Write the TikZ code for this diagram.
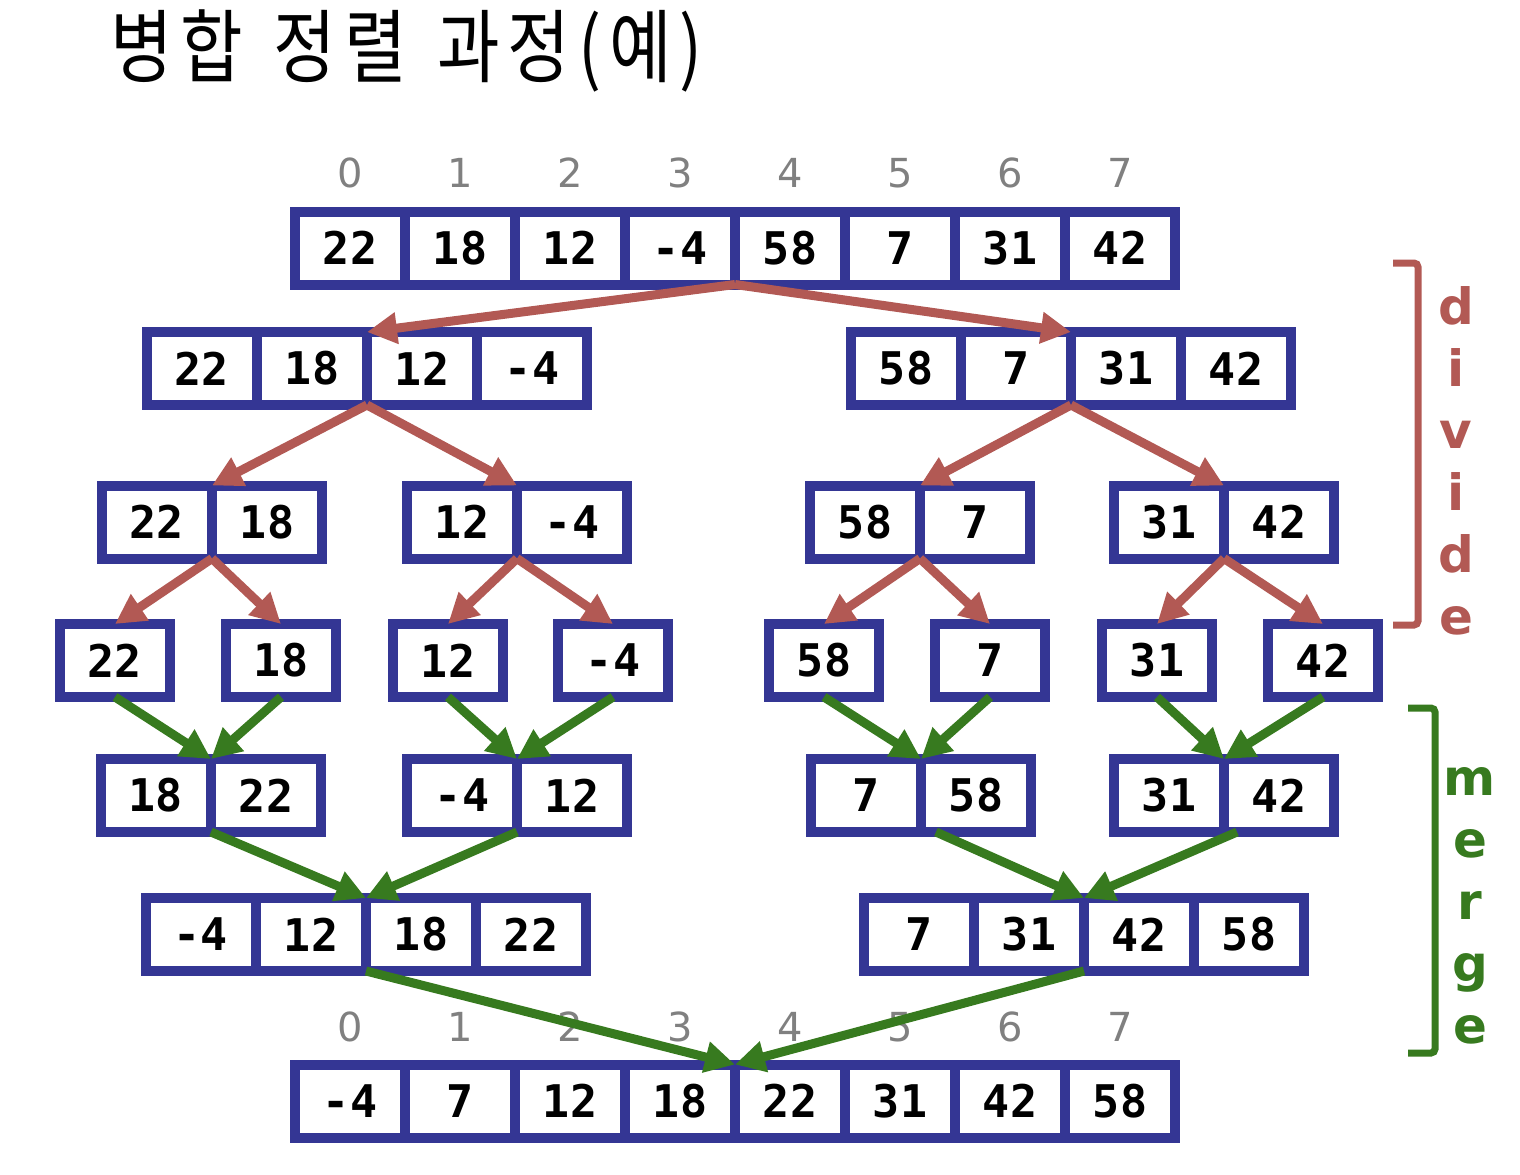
\documentclass[tikz,border=0pt]{standalone}
\usepackage{fontspec}
\setsansfont{DejaVu Sans}
\setmonofont{DejaVu Sans Mono}
\newfontfamily\krfont[FakeStretch=0.85,LetterSpace=10,WordSpace=1.3]{Noto Sans CJK KR}
\usetikzlibrary{arrows.meta}

\definecolor{boxblue}{RGB}{52,54,148}
\definecolor{divred}{RGB}{178,89,84}
\definecolor{mrggreen}{RGB}{55,122,31}
\definecolor{idxgray}{RGB}{128,128,128}

\begin{document}
\begin{tikzpicture}[x=0.5pt, y=-0.5pt,
node distance=55pt,
cell/.style={draw=boxblue, line width=5pt, fill=white, rectangle, inner sep=0pt, outer sep=0pt, minimum width=55pt, minimum height=36.5pt, font=\fontsize{22.5}{27}\selectfont\ttfamily\bfseries},
idx/.style={text=idxgray, inner sep=0pt, font=\fontsize{20}{24}\selectfont\sffamily},
divarrow/.style={draw=divred, line width=4.5pt, -{Triangle[length=15pt, width=15pt]}},
mrgarrow/.style={draw=mrggreen, line width=4.5pt, -{Triangle[length=15pt, width=15pt]}},
side/.style={inner sep=0pt, align=center, font=\fontsize{25}{31}\selectfont\sffamily\bfseries}]

\useasboundingbox (0,0) rectangle (1520,1174);

\node[anchor=base west, inner sep=0pt, font=\krfont\fontsize{40}{44}\selectfont] (title) at (110,76) {병합 정렬 과정(예)};

% original array
\node[cell] (a0) at (350,248) {22};
\node[cell] (a1) [right of=a0] {18};
\node[cell] (a2) [right of=a1] {12};
\node[cell] (a3) [right of=a2] {-4};
\node[cell] (a4) [right of=a3] {58};
\node[cell] (a5) [right of=a4] {7};
\node[cell] (a6) [right of=a5] {31};
\node[cell] (a7) [right of=a6] {42};

\node[idx] (i0) [above of=a0, yshift=-17.5pt] {0};
\node[idx] (i1) [above of=a1, yshift=-17.5pt] {1};
\node[idx] (i2) [above of=a2, yshift=-17.5pt] {2};
\node[idx] (i3) [above of=a3, yshift=-17.5pt] {3};
\node[idx] (i4) [above of=a4, yshift=-17.5pt] {4};
\node[idx] (i5) [above of=a5, yshift=-17.5pt] {5};
\node[idx] (i6) [above of=a6, yshift=-17.5pt] {6};
\node[idx] (i7) [above of=a7, yshift=-17.5pt] {7};

% divide
\node[cell] (b0) at (202,368.5) {22};
\node[cell] (b1) [right of=b0] {18};
\node[cell] (b2) [right of=b1] {12};
\node[cell] (b3) [right of=b2] {-4};
\node[cell] (b4) at (906,368.5) {58};
\node[cell] (b5) [right of=b4] {7};
\node[cell] (b6) [right of=b5] {31};
\node[cell] (b7) [right of=b6] {42};

\node[cell] (c0) at (157,522) {22};
\node[cell] (c1) [right of=c0] {18};
\node[cell] (c2) at (462,522) {12};
\node[cell] (c3) [right of=c2] {-4};
\node[cell] (c4) at (865,522) {58};
\node[cell] (c5) [right of=c4] {7};
\node[cell] (c6) at (1169,522) {31};
\node[cell] (c7) [right of=c6] {42};

\node[cell] (d0) at (115,660.5) {22};
\node[cell] (d1) at (281,660.5) {18};
\node[cell] (d2) at (448,660.5) {12};
\node[cell] (d3) at (613,660.5) {-4};
\node[cell] (d4) at (824,660.5) {58};
\node[cell] (d5) at (990,660.5) {7};
\node[cell] (d6) at (1157,660.5) {31};
\node[cell] (d7) at (1323,660.5) {42};

% merge
\node[cell] (e0) at (156,795.5) {18};
\node[cell] (e1) [right of=e0] {22};
\node[cell] (e2) at (462,795.5) {-4};
\node[cell] (e3) [right of=e2] {12};
\node[cell] (e4) at (866,795.5) {7};
\node[cell] (e5) [right of=e4] {58};
\node[cell] (e6) at (1169,795.5) {31};
\node[cell] (e7) [right of=e6] {42};

\node[cell] (f0) at (201,934.5) {-4};
\node[cell] (f1) [right of=f0] {12};
\node[cell] (f2) [right of=f1] {18};
\node[cell] (f3) [right of=f2] {22};
\node[cell] (f4) at (919,934.5) {7};
\node[cell] (f5) [right of=f4] {31};
\node[cell] (f6) [right of=f5] {42};
\node[cell] (f7) [right of=f6] {58};

% sorted array
\node[cell] (g0) at (350,1101) {-4};
\node[cell] (g1) [right of=g0] {7};
\node[cell] (g2) [right of=g1] {12};
\node[cell] (g3) [right of=g2] {18};
\node[cell] (g4) [right of=g3] {22};
\node[cell] (g5) [right of=g4] {31};
\node[cell] (g6) [right of=g5] {42};
\node[cell] (g7) [right of=g6] {58};

\node[idx] (j0) [above of=g0, yshift=-18pt] {0};
\node[idx] (j1) [above of=g1, yshift=-18pt] {1};
\node[idx] (j2) [above of=g2, yshift=-18pt] {2};
\node[idx] (j3) [above of=g3, yshift=-18pt] {3};
\node[idx] (j4) [above of=g4, yshift=-18pt] {4};
\node[idx] (j5) [above of=g5, yshift=-18pt] {5};
\node[idx] (j6) [above of=g6, yshift=-18pt] {6};
\node[idx] (j7) [above of=g7, yshift=-18pt] {7};

\path[every edge/.style={divarrow}]
 (a3.south east) edge (b1.north east)
 (a3.south east) edge (b5.north east)
 (b1.south east) edge (c0.north east)
 (b1.south east) edge (c2.north east)
 (b5.south east) edge (c4.north east)
 (b5.south east) edge (c6.north east)
 (c0.south east) edge (d0.north)
 (c0.south east) edge (d1.north)
 (c2.south east) edge (d2.north)
 (c2.south east) edge (d3.north)
 (c4.south east) edge (d4.north)
 (c4.south east) edge (d5.north)
 (c6.south east) edge (d6.north)
 (c6.south east) edge (d7.north);

\path[every edge/.style={mrgarrow}]
 (d0.south) edge (e0.north east)
 (d1.south) edge (e0.north east)
 (d2.south) edge (e2.north east)
 (d3.south) edge (e2.north east)
 (d4.south) edge (e4.north east)
 (d5.south) edge (e4.north east)
 (d6.south) edge (e6.north east)
 (d7.south) edge (e6.north east)
 (e0.south east) edge (f1.north east)
 (e2.south east) edge (f1.north east)
 ([xshift=7.5pt]e4.south east) edge (f5.north east)
 ([xshift=6.5pt]e6.south east) edge (f5.north east)
 (f1.south east) edge (g3.north east)
 (f5.south east) edge (g3.north east);

% brackets
\draw[divred, line width=3.5pt, rounded corners=2pt] (1393,263) -- (1418,263) -- (1418,625) -- (1393,625);
\draw[mrggreen, line width=3.5pt, rounded corners=2pt] (1408,708) -- (1435,708) -- (1435,1053) -- (1408,1053);

\node[side, text=divred] (dv) at (1456,461) {d\\i\\v\\i\\d\\e};
\node[side, text=mrggreen] (mg) at (1470,906) {m\\e\\r\\g\\e};

\end{tikzpicture}
\end{document}
